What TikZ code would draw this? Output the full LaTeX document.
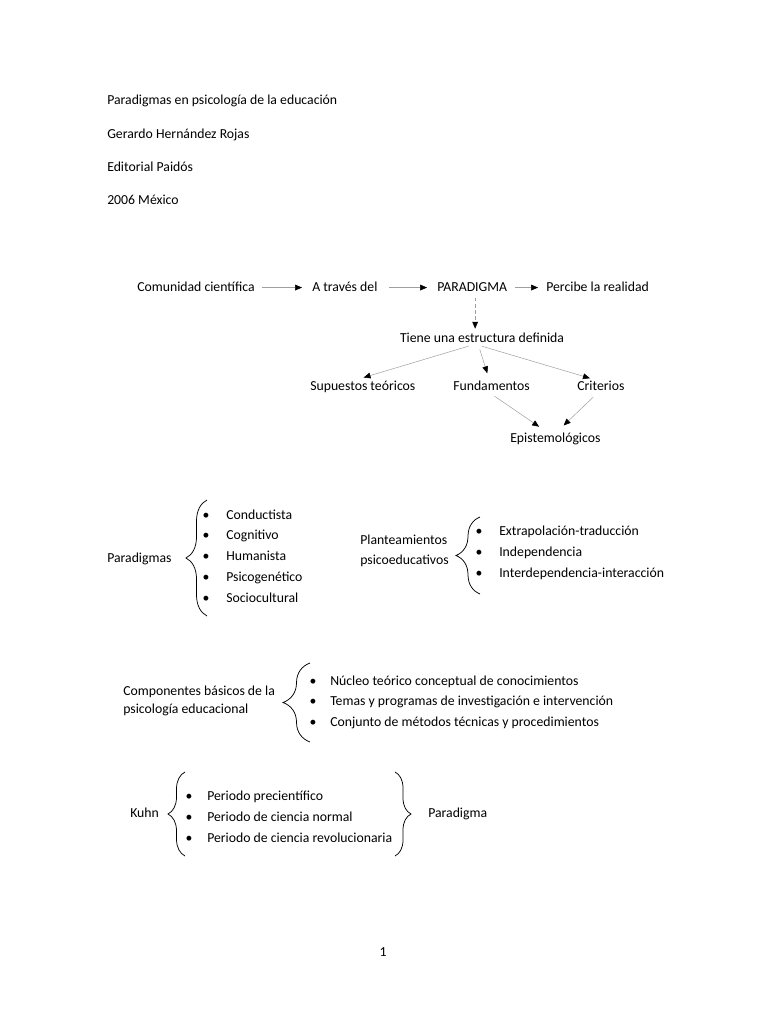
\documentclass[tikz,border=0pt]{standalone}
\usepackage{fontspec}
\setmainfont{Carlito}
\usetikzlibrary{arrows.meta,decorations.pathreplacing}

\begin{document}
\begin{tikzpicture}[x=0.8pt,y=-0.8pt,
  txt/.style={anchor=base west,inner sep=0pt,font=\fontsize{11}{13}\selectfont},
  fila/.style={txt,text height=7.5pt,text depth=2pt},
  bala/.style={txt,anchor=base},
  flecha/.style={draw=gray!75,line width=0.4pt,-{Triangle[length=5.5pt,width=4.6pt,color=black]}},
  llave/.style={draw=black,line width=0.6pt,decorate,decoration={brace,amplitude=#1}}]
\fill[white] (0,0) rectangle (768,1024);
\useasboundingbox (0,0) rectangle (768,1024);

% datos del libro
\node[txt] (titulo) at (107,105) {Paradigmas en psicología de la educación};
\node[txt] (autor) at (107,139) {Gerardo Hernández Rojas};
\node[txt] (editorial) at (107,172) {Editorial Paidós};
\node[txt] (anio) at (107,205) {2006 México};

% mapa del paradigma
\node[fila] (comunidad) at (137,291) {Comunidad científica};
\node[fila] (traves) at (312,291) {A través del};
\node[fila] (paradigma) at (437,291) {PARADIGMA};
\node[fila] (percibe) at (546,291) {Percibe la realidad};
\draw[flecha,shorten <=5.6pt,shorten >=8pt] (comunidad.east) -- (traves.west);
\draw[flecha,shorten <=8.8pt,shorten >=8pt] (traves.east) -- (paradigma.west);
\draw[flecha,shorten <=6.4pt,shorten >=6.4pt] (paradigma.east) -- (percibe.west);

\node[fila,anchor=base] (tiene) at (482,342) {Tiene una estructura definida};
\draw[flecha,densely dashed,shorten <=3pt,shorten >=3pt] ([xshift=2.4pt]paradigma.south) -- ([xshift=2.4pt]paradigma.south |- tiene.north);

\node[fila] (supuestos) at (310,390) {Supuestos teóricos};
\node[fila] (fundamentos) at (453,390) {Fundamentos};
\node[fila] (criterios) at (577,390) {Criterios};
\node[fila] (epistemo) at (510,442) {Epistemológicos};
\draw[flecha,shorten <=4pt,shorten >=8pt] ([xshift=-7pt]tiene.south) -- ([xshift=-7pt]supuestos.north);
\draw[flecha,shorten <=4pt,shorten >=6pt] ([xshift=-3pt]tiene.south) -- ([xshift=-1.6pt]fundamentos.north);
\draw[flecha,shorten <=4pt,shorten >=6pt] ([xshift=-4pt]tiene.south) -- ([xshift=-3pt]criterios.north);
\draw[flecha,shorten <=5pt,shorten >=8pt] ([xshift=-1.6pt]fundamentos.south) -- ([xshift=-6.4pt]epistemo.north);
\draw[flecha,shorten <=5pt,shorten >=8pt] ([xshift=-2.4pt]criterios.south) -- ([xshift=0.8pt]epistemo.north);

% paradigmas
\node[txt] (paradigmas) at (107,562) {Paradigmas};
\draw[llave=16.8pt] (207,616) -- (207,500);
\foreach \t [count=\i] in {Conductista,Cognitivo,Humanista,Psicogenético,Sociocultural}{
  \node[bala] (bpar\i) at (206,{498.5+20.7*\i}) {\textbullet};
  \node[txt] (par\i) at (226,{498.5+20.7*\i}) {\t};
}

% planteamientos
\node[txt,anchor=west,align=left,font=\fontsize{11}{16}\selectfont] (plantea) at (360,551) {Planteamientos\\psicoeducativos};
\draw[llave=19.2pt] (480,594) -- (480,517);
\foreach \t [count=\i] in {Extrapolación-traducción,Independencia,Interdependencia-interacción}{
  \node[bala] (bpla\i) at (479,{514+21*\i}) {\textbullet};
  \node[txt] (pla\i) at (499,{514+21*\i}) {\t};
}

% componentes
\node[txt,anchor=west,align=left,font=\fontsize{11}{15}\selectfont] (componentes) at (123,701) {Componentes básicos de la\\psicología educacional};
\draw[llave=21.6pt] (310,742) -- (310,663);
\foreach \t [count=\i] in {Núcleo teórico conceptual de conocimientos,Temas y programas de investigación e intervención,Conjunto de métodos técnicas y procedimientos}{
  \node[bala] (bcom\i) at (313,{664.5+20.5*\i}) {\textbullet};
  \node[txt] (com\i) at (330,{664.5+20.5*\i}) {\t};
}

% kuhn
\node[txt] (kuhn) at (130,817) {Kuhn};
\draw[llave=13.6pt] (185,856) -- (185,772);
\foreach \t [count=\i] in {Periodo precientífico,Periodo de ciencia normal,Periodo de ciencia revolucionaria}{
  \node[bala] (bkuh\i) at (189,{779+21*\i}) {\textbullet};
  \node[txt] (kuh\i) at (207,{779+21*\i}) {\t};
}
\draw[llave=12.8pt] (395,772) -- (395,856);
\node[txt] (paradigma2) at (428,817) {Paradigma};

\node[txt,anchor=base] (pagina) at (383,956) {1};
\end{tikzpicture}
\end{document}
